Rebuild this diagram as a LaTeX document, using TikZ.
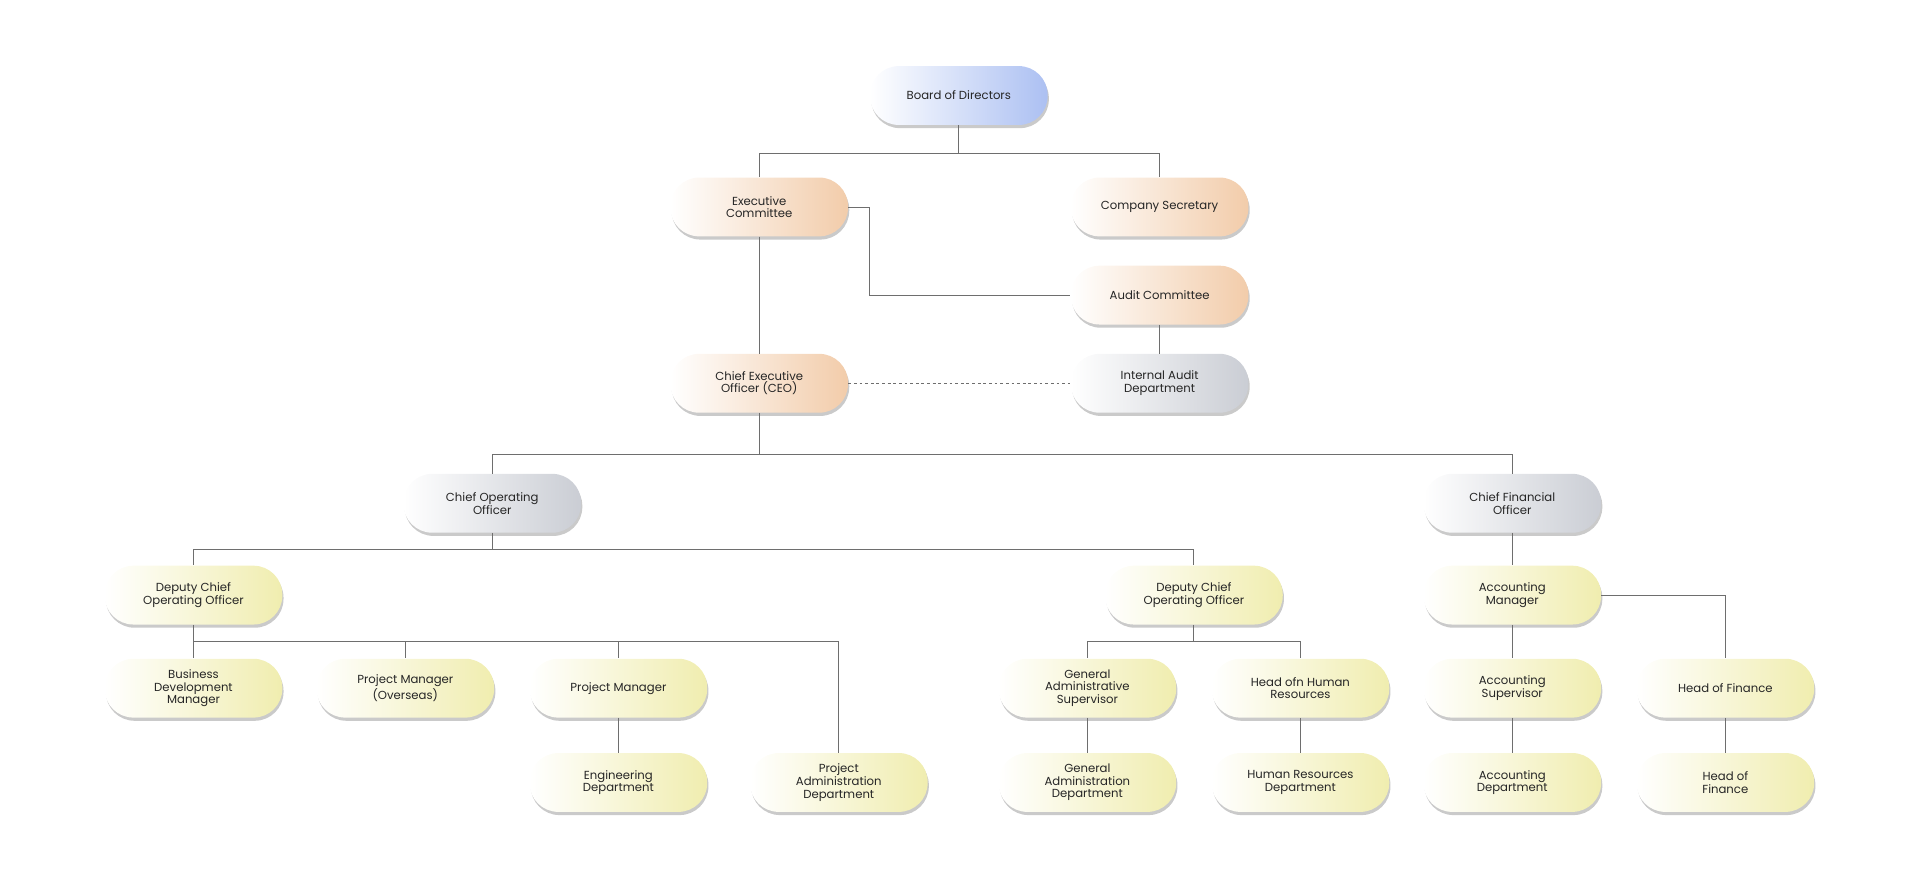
\documentclass[tikz,border=0pt]{standalone}
\usepackage{fontspec}
\setmainfont{Poppins}
\usetikzlibrary{shadows}
\definecolor{cblue}{RGB}{172,192,242}
\definecolor{corange}{RGB}{242,204,170}
\definecolor{cgrey}{RGB}{202,205,212}
\definecolor{cyellow}{RGB}{240,237,175}
\definecolor{lin}{RGB}{110,110,110}
\begin{document}
\begin{tikzpicture}[x=0.0306cm,y=-0.0306cm,
 box/.style={draw=none,rounded corners=0.72cm,minimum width=4.44cm,minimum height=1.47cm,
   align=center,font=\fontsize{8.3}{9}\selectfont,text=black!85,left color=white,
   drop shadow={shadow xshift=0.3mm,shadow yshift=-0.8mm,opacity=0.35,fill=black!60}},
 bl/.style={box,right color=cblue},
 or/.style={box,right color=corange},
 gr/.style={box,right color=cgrey},
 ye/.style={box,right color=cyellow},
 ln/.style={draw=lin,line width=0.6pt}]
\useasboundingbox (0,0) rectangle (1568,718.7);
\node[bl] (bod) at (783,78) {Board of Directors};
\node[or] (exec) at (620,169) {Executive\\Committee};
\node[or] (sec) at (947,169) {Company Secretary};
\node[or] (audit) at (947,241) {Audit Committee};
\node[or] (ceo) at (620,313) {Chief Executive\\Officer (CEO)};
\node[gr] (iad) at (947,313) {Internal Audit\\Department};
\node[gr] (coo) at (402,411) {Chief Operating\\Officer};
\node[gr] (cfo) at (1235,411) {Chief Financial\\Officer};
\node[ye] (dcoo1) at (158,486) {Deputy Chief\\Operating Officer};
\node[ye] (dcoo2) at (975,486) {Deputy Chief\\Operating Officer};
\node[ye] (am) at (1235,486) {Accounting\\Manager};
\node[ye] (bdm) at (158,562) {Business\\Development\\Manager};
\node[ye] (pmo) at (331,562) {Project Manager\\(Overseas)};
\node[ye] (pm) at (505,562) {Project Manager};
\node[ye] (ead) at (505,639) {Engineering\\Department};
\node[ye] (pad) at (685,639) {Project\\Administration\\Department};
\node[ye] (gas) at (888,562) {General\\Administrative\\Supervisor};
\node[ye] (hhr) at (1062,562) {Head ofn Human\\Resources};
\node[ye] (gad) at (888,639) {General\\Administration\\Department};
\node[ye] (hrd) at (1062,639) {Human Resources\\Department};
\node[ye] (as) at (1235,562) {Accounting\\Supervisor};
\node[ye] (ad) at (1235,639) {Accounting\\Department};
\node[ye] (hof) at (1409,562) {Head of Finance};
\node[ye] (hof2) at (1409,639) {Head of\\Finance};
\coordinate (b1) at (783,125);
\coordinate (b2) at (620,371);
\coordinate (b3) at (402,449);
\coordinate (b4) at (158,524);
\coordinate (b5) at (975,524);
\coordinate (k1) at (710,169);
\coordinate (k2) at (1409,486);
\draw[ln] (bod) -- (b1) -| (exec);
\draw[ln] (b1) -| (sec);
\draw[ln] (exec) -- (ceo);
\draw[ln] (exec.east) -- (k1) |- (audit.west);
\draw[ln] (audit) -- (iad);
\draw[ln,dashed,dash pattern=on 2pt off 2pt] (ceo) -- (iad);
\draw[ln] (ceo) -- (b2) -| (coo);
\draw[ln] (b2) -| (cfo);
\draw[ln] (coo) -- (b3) -| (dcoo1);
\draw[ln] (b3) -| (dcoo2);
\draw[ln] (dcoo1) -- (b4) -| (bdm);
\draw[ln] (b4) -| (pmo);
\draw[ln] (b4) -| (pm);
\draw[ln] (b4) -| (pad);
\draw[ln] (pm) -- (ead);
\draw[ln] (dcoo2) -- (b5) -| (gas);
\draw[ln] (b5) -| (hhr);
\draw[ln] (gas) -- (gad);
\draw[ln] (hhr) -- (hrd);
\draw[ln] (cfo) -- (am);
\draw[ln] (am) -- (as);
\draw[ln] (as) -- (ad);
\draw[ln] (am.east) -- (k2) -- (hof);
\draw[ln] (hof) -- (hof2);
\end{tikzpicture}
\end{document}
